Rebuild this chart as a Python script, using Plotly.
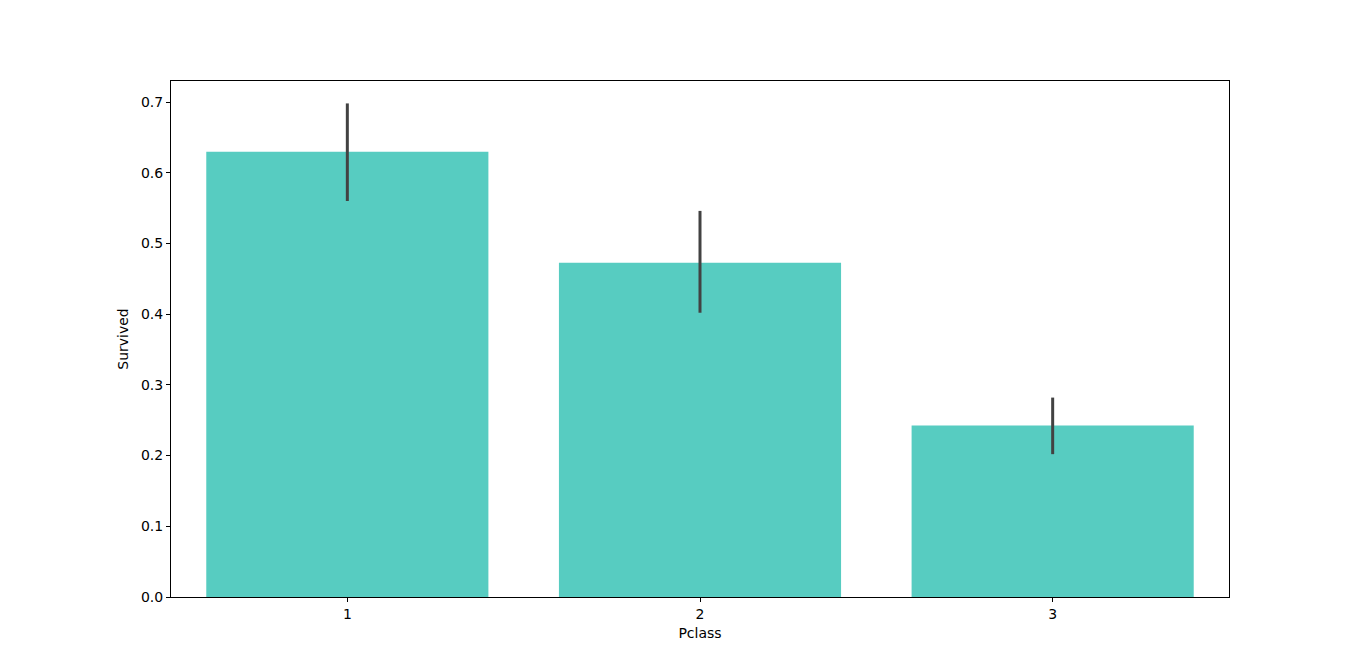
'''
Survival rate by passenger class, bars with confidence intervals
'''

import plotly.graph_objs as go

pclass = ["1", "2", "3"]
survived = [0.6296, 0.4728, 0.2424]
ci_high = [0.698, 0.546, 0.282]
ci_low = [0.560, 0.402, 0.202]

err_plus = [h - v for h, v in zip(ci_high, survived)]
err_minus = [v - l for v, l in zip(survived, ci_low)]

bar = go.Bar(
    x=[0, 1, 2],
    y=survived,
    width=0.8,
    marker={"color": "rgb(87, 204, 193)", "line": {"width": 0}},
    error_y={
        "type": "data",
        "array": err_plus,
        "arrayminus": err_minus,
        "color": "#424242",
        "thickness": 3,
        "width": 0,
    },
)

tick_font = {"family": "DejaVu Sans", "size": 14, "color": "black"}

axis_style = {
    "showline": True,
    "linecolor": "black",
    "linewidth": 1,
    "mirror": True,
    "ticks": "outside",
    "ticklen": 4,
    "tickcolor": "black",
    "tickfont": tick_font,
    "showgrid": False,
    "zeroline": False,
}

# page body adds 8px of offset, so the margins are shifted to compensate
layout = {
    "width": 1366,
    "height": 671,
    "margin": {"l": 163, "r": 145, "t": 73, "b": 82},
    "plot_bgcolor": "white",
    "paper_bgcolor": "white",
    "font": tick_font,
    "showlegend": False,
    "xaxis": dict(axis_style, range=[-0.5, 2.5], tickvals=[0, 1, 2],
                  ticktext=pclass,
                  title={"text": "Pclass", "font": tick_font, "standoff": 7}),
    "yaxis": dict(axis_style, range=[0, 0.7297],
                  tickvals=[0, 0.1, 0.2, 0.3, 0.4, 0.5, 0.6, 0.7],
                  tickformat=".1f",
                  title={"text": "Survived", "font": tick_font, "standoff": 9}),
}

fig = go.Figure(data=[bar], layout=layout)
fig.write_html("out.html")
